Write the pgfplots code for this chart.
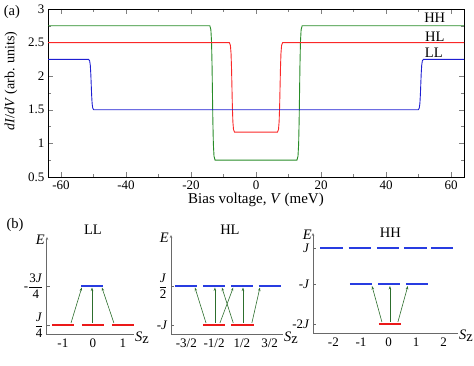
\documentclass[border=0pt]{standalone}
\usepackage{fontspec}
\setmainfont{Liberation Serif}
\usepackage{pgfplots}
\pgfplotsset{compat=1.18}
\usetikzlibrary{arrows.meta}

\definecolor{cgreen}{RGB}{40,140,40}
\definecolor{cred}{RGB}{250,40,40}
\definecolor{cblue}{RGB}{30,30,210}
\definecolor{lred}{RGB}{235,25,25}
\definecolor{lblue}{RGB}{40,60,225}
\definecolor{agreen}{RGB}{45,110,45}
\definecolor{axgray}{RGB}{105,105,105}

\newcommand{\fr}[2]{$\displaystyle{\hbox{#1}\over\hbox{#2}}$}
\newcommand{\Sz}{\textit{S}\raisebox{-0.35ex}{z}}

\pgfplotsset{
  lvl/.style={
    scale only axis, anchor=south west, clip=false,
    axis lines=left,
    axis line style={draw=axgray, line width=1pt},
    x axis line style={-},
    y axis line style={-{Stealth[length=3pt,width=2.5pt]}},
    xtick style={draw=none},
    ytick style={draw=axgray, line width=0.8pt},
    tick align=inside, major tick length=3pt,
    ymin=0,
    /pgf/number format/assume math mode=true,
    tick label style={font=\fontsize{13}{15}\selectfont},
  },
  red level/.style={lred, line width=1.7pt, forget plot},
  blue level/.style={lblue, line width=1.7pt, forget plot},
  arr/.style={agreen, line width=0.6pt, -{Stealth[length=3.5pt,width=2.5pt]}, forget plot},
}

\begin{document}
\begin{tikzpicture}[font=\fontsize{14.5}{16}\selectfont]
\path[use as bounding box] (0,0) rectangle (474pt,366pt);

% ---------------- panel (a) ----------------
\begin{axis}[
  at={(48pt,189pt)}, anchor=south west, scale only axis,
  width=416pt, height=168pt,
  xmin=-64, xmax=64, ymin=0.5, ymax=3,
  xtick={-60,-40,-20,0,20,40,60},
  ytick={0.5,1,1.5,2,2.5,3},
  minor x tick num=1, minor y tick num=1,
  tick align=inside, major tick length=5pt, minor tick length=3pt,
  axis line style={line width=0.8pt},
  /pgf/number format/assume math mode=true,
  tick label style={font=\fontsize{13}{15}\selectfont},
  xlabel={Bias voltage, \textit{V} (meV)},
  ylabel={\textit{dI}/\textit{dV} (arb. units)},
  xlabel style={at={(axis description cs:0.5,-0.137)}, anchor=center, font=\fontsize{15}{17}\selectfont},
  ylabel style={at={(axis description cs:-0.089,0.571)}, anchor=center, rotate=0, font=\fontsize{14}{16}\selectfont},
  clip=false,
]
% HH (green)
\addplot[cgreen, line width=0.9pt] coordinates {
(-64,2.75) (-14.2,2.75) (-13.88,2.69) (-13.68,2.51) (-13.52,2.15) (-13.4,1.75) (-13.28,1.35) (-13.12,0.99) (-12.92,0.81) (-12.6,0.75)
(12.6,0.75) (12.92,0.81) (13.12,0.99) (13.28,1.35) (13.4,1.75) (13.52,2.15) (13.68,2.51) (13.88,2.69) (14.2,2.75) (64,2.75)
};
% HL (red)
\addplot[cred, line width=0.9pt] coordinates {
(-64,2.5) (-8.2,2.5) (-7.88,2.46) (-7.68,2.34) (-7.52,2.10) (-7.4,1.833) (-7.28,1.567) (-7.12,1.327) (-6.92,1.207) (-6.6,1.167)
(6.6,1.167) (6.92,1.207) (7.12,1.327) (7.28,1.567) (7.4,1.833) (7.52,2.10) (7.68,2.34) (7.88,2.46) (8.2,2.5) (64,2.5)
};
% LL (blue)
\addplot[cblue, line width=0.9pt] coordinates {
(-64,2.25) (-51.5,2.25) (-51.18,2.2275) (-50.98,2.16) (-50.82,2.025) (-50.7,1.875) (-50.58,1.725) (-50.42,1.59) (-50.22,1.5225) (-49.9,1.5)
(49.9,1.5) (50.22,1.5225) (50.42,1.59) (50.58,1.725) (50.7,1.875) (50.82,2.025) (50.98,2.16) (51.18,2.2275) (51.5,2.25) (64,2.25)
};
\node at (axis cs:55,2.866) {HH};
\node at (axis cs:55,2.583) {HL};
\node at (axis cs:54.7,2.345) {LL};
\node at (axis description cs:-0.087,0.985) {(a)};
\end{axis}

\node at (15pt,141pt) {(b)};

% ---------------- panel (b) LL ----------------
\begin{axis}[lvl,
  at={(47pt,31pt)}, width=87pt, height=98pt,
  xmin=-1.53, xmax=1.37, ymax=98,
  xtick={-1,0,1},
  ytick={10,49}, yticklabels={\fr{\textit{J}}{4}, -\fr{3\textit{J}}{4}},
]
\addplot[red level, unbounded coords=jump] coordinates {(-1.37,10) (-0.63,10) (0,nan) (-0.37,10) (0.37,10) (0,nan) (0.63,10) (1.37,10)};
\addplot[blue level] coordinates {(-0.4,49) (0.34,49)};
\addplot[arr] coordinates {(-0.73,12) (-0.37,47.5)};
\addplot[arr] coordinates {(-0.03,12) (-0.03,47.5)};
\addplot[arr] coordinates {(0.7,12) (0.3,47.5)};
\node at (axis cs:0,105) {LL};
\node[anchor=east, inner sep=0pt, xshift=-2pt] at (rel axis cs:0,0.97) {\textit{E}};
\node[anchor=west, inner sep=1pt, yshift=-3pt] at (rel axis cs:1,0) {\Sz};
\end{axis}

% ---------------- panel (b) HL ----------------
\begin{axis}[lvl,
  at={(171pt,31pt)}, width=112pt, height=100pt,
  xmin=-2.05, xmax=1.98, ymax=100,
  xtick={-1.5,-0.5,0.5,1.5}, xticklabels={-3/2,-1/2,1/2,3/2},
  ytick={10,49}, yticklabels={-\textit{J}, \fr{\textit{J}}{2}},
]
\addplot[red level, unbounded coords=jump] coordinates {(-0.9,10) (-0.1,10) (0,nan) (0.12,10) (0.92,10)};
\addplot[blue level, unbounded coords=jump] coordinates {(-1.9,49) (-1.12,49) (0,nan) (-0.9,49) (-0.1,49) (0,nan) (0.1,49) (0.9,49) (0,nan) (1.1,49) (1.9,49)};
\addplot[arr] coordinates {(-0.79,12) (-1.19,47.5)};
\addplot[arr] coordinates {(-0.47,12) (-0.47,47.5)};
\addplot[arr] coordinates {(-0.29,12) (0.19,47.5)};
\addplot[arr] coordinates {(0.19,12) (-0.22,47.5)};
\addplot[arr] coordinates {(0.54,12) (0.54,47.5)};
\addplot[arr] coordinates {(0.86,12) (1.15,47.5)};
\node at (axis cs:0.07,105) {HL};
\node[anchor=east, inner sep=0pt, xshift=-2pt] at (rel axis cs:0,0.97) {\textit{E}};
\node[anchor=west, inner sep=1pt, yshift=-3pt] at (rel axis cs:1,0) {\Sz};
\end{axis}

% ---------------- panel (b) HH ----------------
\begin{axis}[lvl,
  at={(313pt,32pt)}, width=145pt, height=101pt,
  xmin=-2.74, xmax=2.52, ymax=101,
  xtick={-2,-1,0,1,2},
  ytick={10,50,86}, yticklabels={-2\textit{J}, -\textit{J}, \textit{J}},
]
\addplot[red level] coordinates {(-0.35,10) (0.45,10)};
\addplot[blue level, unbounded coords=jump] coordinates {(-1.4,50) (-0.6,50) (0,nan) (-0.38,50) (0.42,50) (0,nan) (0.63,50) (1.43,50)};
\addplot[blue level, unbounded coords=jump] coordinates {(-2.47,86) (-1.65,86) (0,nan) (-1.45,86) (-0.63,86) (0,nan) (-0.42,86) (0.38,86) (0,nan) (0.56,86) (1.38,86) (0,nan) (1.54,86) (2.34,86)};
\addplot[arr] coordinates {(-0.24,12) (-0.6,48)};
\addplot[arr] coordinates {(0.05,12) (0.05,48)};
\addplot[arr] coordinates {(0.34,12) (0.7,48)};
\node at (axis cs:0.07,101) {HH};
\node[anchor=east, inner sep=0pt, xshift=-1pt] at (rel axis cs:0,0.985) {\textit{E}};
\node[anchor=west, inner sep=1pt, yshift=-2pt] at (rel axis cs:1,0) {\Sz};
\end{axis}
\end{tikzpicture}
\end{document}
